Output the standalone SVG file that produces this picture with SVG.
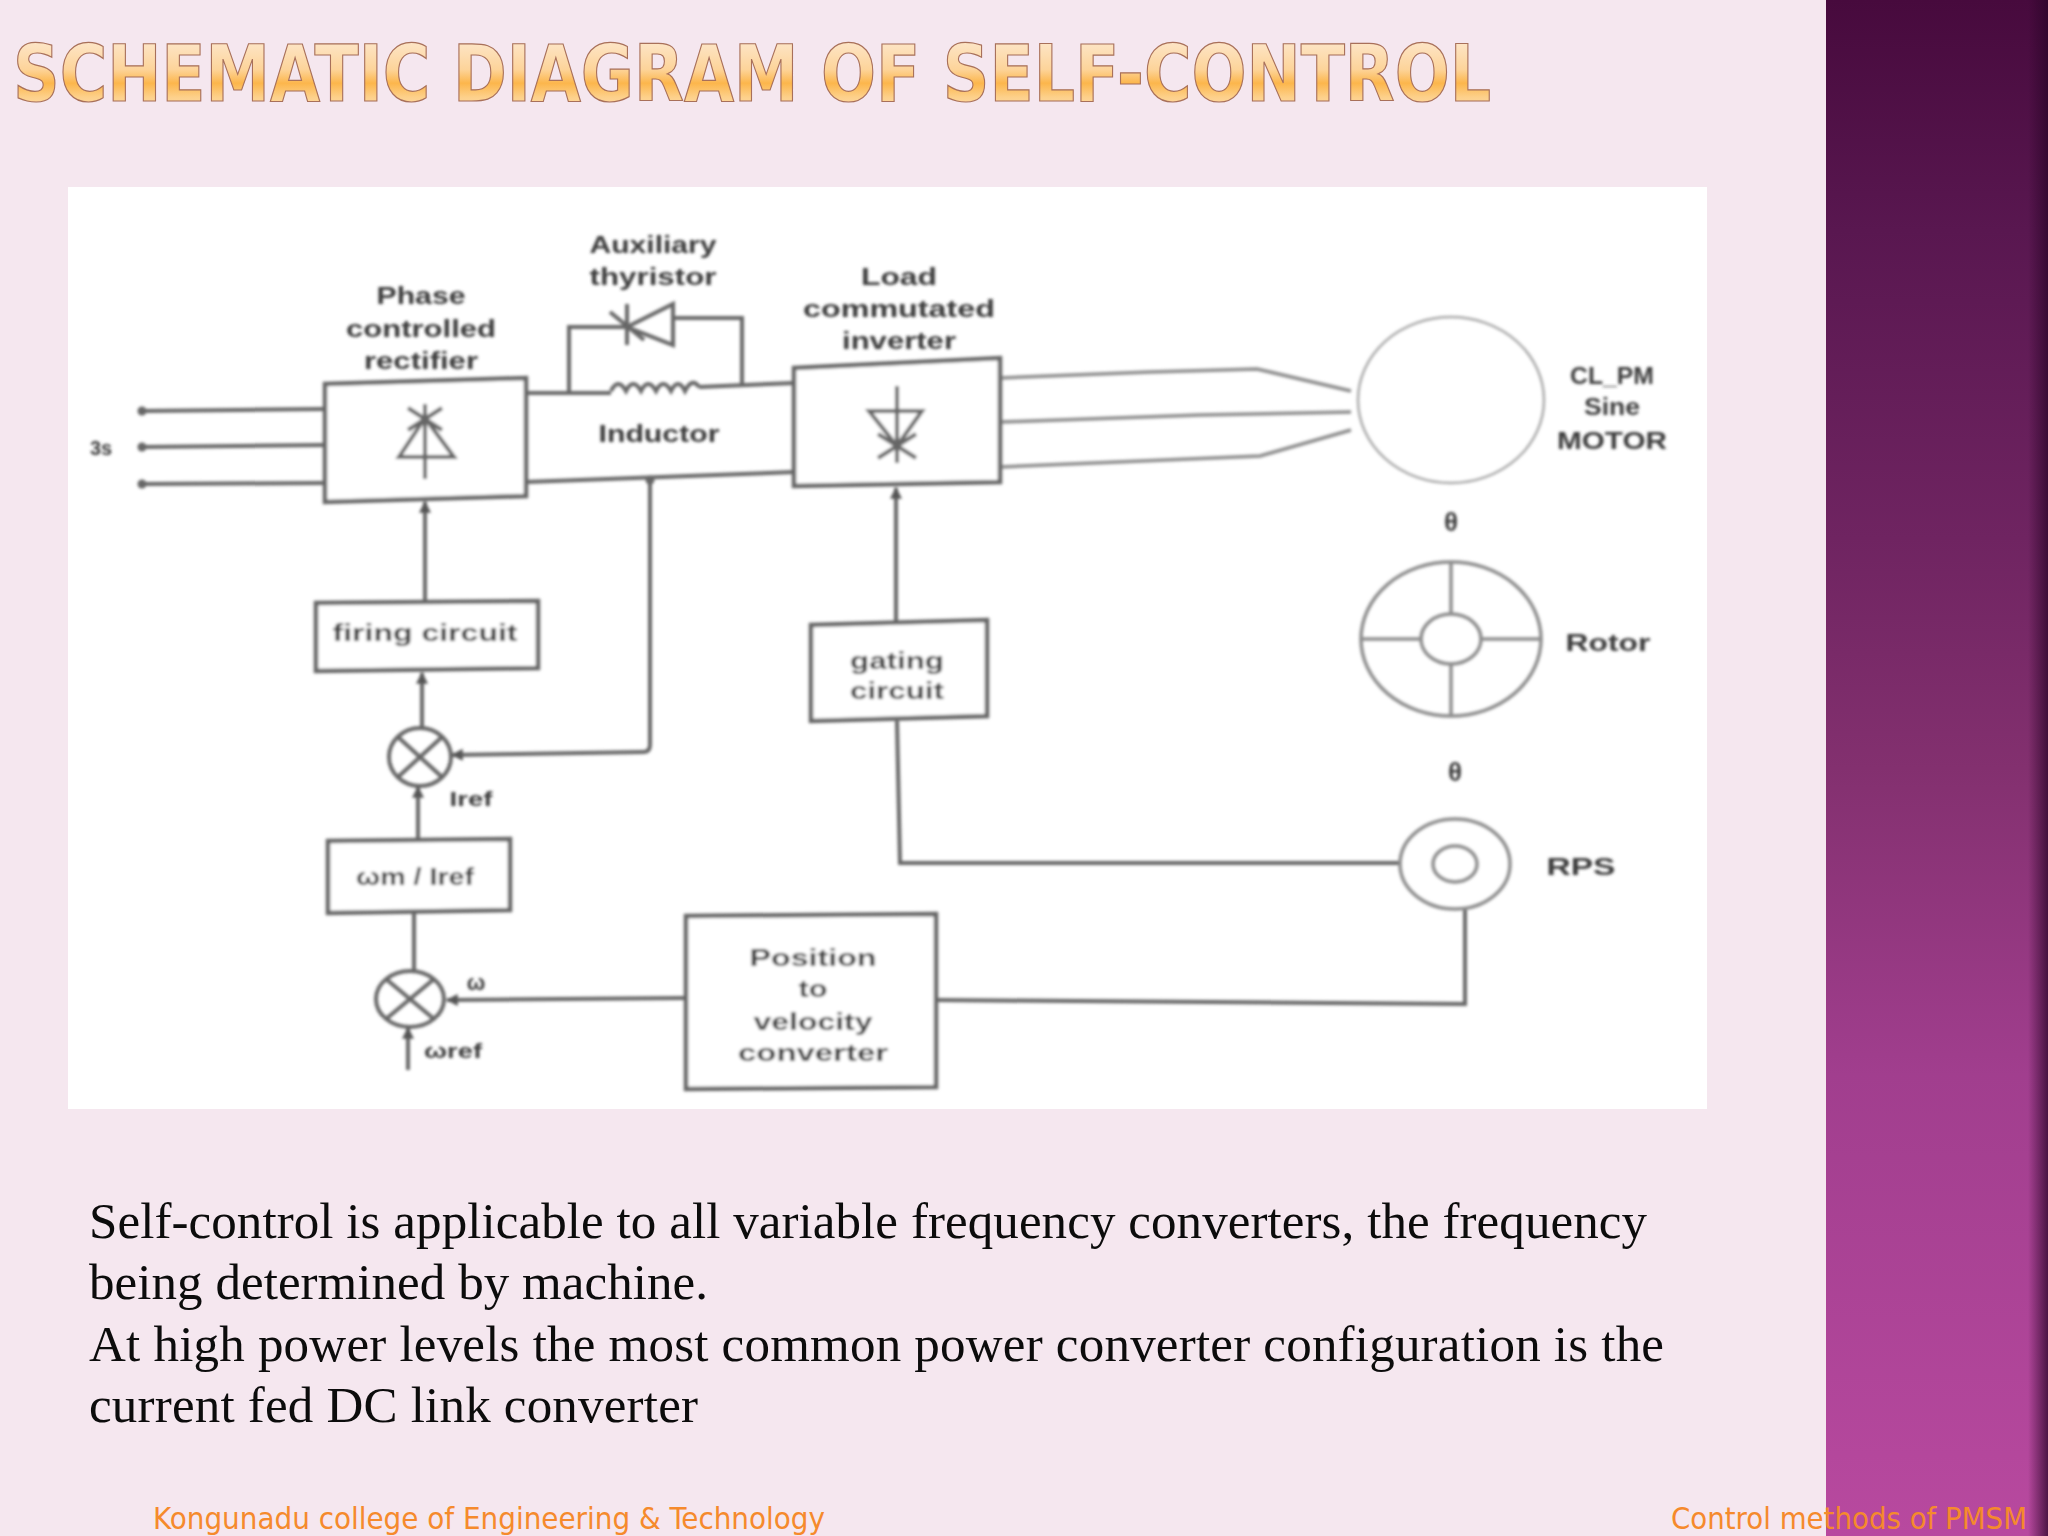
<svg xmlns="http://www.w3.org/2000/svg" width="2048" height="1536" viewBox="0 0 2048 1536">
<defs>
<linearGradient id="side" x1="0" y1="0" x2="0" y2="1"><stop offset="0" stop-color="#470a3d"/><stop offset=".15" stop-color="#591750"/><stop offset=".35" stop-color="#6f2461"/><stop offset=".5" stop-color="#83306f"/><stop offset=".7" stop-color="#a13e8e"/><stop offset="1" stop-color="#b8499f"/></linearGradient>
<linearGradient id="edge" x1="0" y1="0" x2="1" y2="0"><stop offset="0" stop-color="#2a0528" stop-opacity="0"/><stop offset="1" stop-color="#2a0528" stop-opacity=".75"/></linearGradient>
<linearGradient id="title" x1="0" y1="0" x2="0" y2="1"><stop offset="0" stop-color="#fdeede"/><stop offset=".45" stop-color="#fdd49a"/><stop offset=".6" stop-color="#fcb64c"/><stop offset=".75" stop-color="#fdd08a"/><stop offset="1" stop-color="#fee6c6"/></linearGradient>
<filter id="soft" x="-2%" y="-2%" width="104%" height="104%"><feGaussianBlur stdDeviation="1.8"/></filter>
<marker id="tip" viewBox="0 0 10 10" refX="9" refY="5" markerWidth="3" markerHeight="3.4" orient="auto"><path d="M0 0L10 5L0 10Z" fill="#555"/></marker>
</defs>
<style>
.ln{fill:none;stroke:#666;stroke-width:4}
.lf{fill:none;stroke:#8c8c8c;stroke-width:3.5}
.box{fill:#fff;stroke:#666;stroke-width:4.5}
.lbl{font-family:"Liberation Sans",Arial,sans-serif;font-size:24px;font-weight:700;fill:#3a3a3a;text-anchor:middle}
.body{font-family:"Liberation Serif","Times New Roman",serif;font-size:51px;fill:#0c0c0c}
.foot{font-family:"DejaVu Sans Condensed","DejaVu Sans",sans-serif;font-size:31px;fill:#f58a2c}
</style>
<rect id="background" width="2048" height="1536" fill="#f5e7ef"/>
<rect id="sidebar" x="1826" y="0" width="222" height="1536" fill="url(#side)"/>
<rect x="2028" y="0" width="20" height="1536" fill="url(#edge)"/>
<text id="title-text" x="13" y="101" font-family="'DejaVu Sans Condensed','DejaVu Sans',sans-serif" font-weight="700" font-size="79" fill="url(#title)" stroke="#a8705a" stroke-width="1.2" textLength="1478" lengthAdjust="spacingAndGlyphs">SCHEMATIC DIAGRAM OF SELF-CONTROL</text>
<rect id="panel" x="68" y="187" width="1639" height="922" fill="#fff"/>
<g id="diagram" filter="url(#soft)">
<g id="connectors">
<path class="ln" d="M142 411L325 409M142 447L325 445M142 484L325 483"/>
<path class="ln" d="M526 393L611 393M699 387L794 383M526 482L794 472"/>
<path class="ln" d="M569 392V327H627M673 318H742V387"/>
<path class="ln" d="M611 391q7-14 15 0q7-14 15 0q7-14 15 0q7-14 15 0q7-14 14 0q7-14 14-4"/>
<path class="ln" d="M650 480V745Q650 752 643 752L452 755" marker-end="url(#tip)"/>
<path class="ln" d="M425 601V502" marker-end="url(#tip)"/>
<path class="ln" d="M422 727V673" marker-end="url(#tip)"/>
<path class="ln" d="M418 839V787" marker-end="url(#tip)"/>
<path class="ln" d="M414 913V971"/>
<path class="ln" d="M686 998L447 1000" marker-end="url(#tip)"/>
<path class="ln" d="M408 1070V1028" marker-end="url(#tip)"/>
<path class="ln" d="M936 1000L1465 1004V908"/>
<path class="ln" d="M1400 863H900L897 721"/>
<path class="ln" d="M896 625V488" marker-end="url(#tip)"/>
<path class="lf" d="M1000 378L1150 372L1257 369L1351 391M1000 422L1200 415L1351 412M1000 467L1260 456L1351 430"/>
<circle cx="142" cy="411" r="4.5" fill="#666"/><circle cx="142" cy="447" r="4.5" fill="#666"/><circle cx="142" cy="484" r="4.5" fill="#666"/><circle cx="650" cy="480" r="4.5" fill="#666"/>
</g>
<g id="rectifier"><path class="box" d="M325 384L526 378V496L325 502Z"/><path class="ln" d="M425 404V479M425 418L399 457H454Z M408 408L442 430M442 408L408 430"/></g>
<g id="inverter"><path class="box" d="M794 368L1000 358V482L794 486Z"/><path class="ln" d="M897 386V463M869 411H922L897 446Z M878 434L916 458M916 434L878 458"/></g>
<g id="aux-thyristor"><path class="ln" d="M627 327L673 304V345ZM627 304V345M610 312L644 340"/></g>
<g id="firing-circuit"><path class="box" d="M316 603L538 601V668L316 671Z"/><text class="lbl" x="425" y="641" textLength="185" lengthAdjust="spacingAndGlyphs">firing circuit</text></g>
<g id="gating-circuit"><path class="box" d="M811 625L987 620V716L811 721Z"/><text class="lbl" x="897" y="669" textLength="94" lengthAdjust="spacingAndGlyphs">gating</text><text class="lbl" x="897" y="699" textLength="94" lengthAdjust="spacingAndGlyphs">circuit</text></g>
<g id="ratio"><path class="box" d="M328 841L510 839V910L328 913Z"/><text class="lbl" x="415" y="885" textLength="118" lengthAdjust="spacingAndGlyphs">ωm / Iref</text></g>
<g id="position-converter"><path class="box" d="M686 916L936 914V1087L686 1089Z"/><text class="lbl" x="813" y="966" textLength="127" lengthAdjust="spacingAndGlyphs">Position</text><text class="lbl" x="813" y="997" textLength="29" lengthAdjust="spacingAndGlyphs">to</text><text class="lbl" x="813" y="1030" textLength="119" lengthAdjust="spacingAndGlyphs">velocity</text><text class="lbl" x="813" y="1061" textLength="150" lengthAdjust="spacingAndGlyphs">converter</text></g>
<g id="summer-current"><ellipse class="ln" cx="420" cy="757" rx="31" ry="29"/><path class="ln" d="M398 737L442 777M442 737L398 777"/></g>
<g id="summer-speed"><ellipse class="ln" cx="410" cy="999" rx="34" ry="28"/><path class="ln" d="M386 979L434 1019M434 979L386 1019"/></g>
<g id="motor"><ellipse cx="1451" cy="400" rx="93" ry="83" fill="none" stroke="#a8a8a8" stroke-width="2.5"/></g>
<g id="rotor"><ellipse class="lf" cx="1451" cy="639" rx="90" ry="77"/><ellipse class="lf" cx="1451" cy="639" rx="30" ry="25"/><path class="lf" d="M1451 562V614M1451 664V716M1361 639H1421M1481 639H1541"/></g>
<g id="rps"><ellipse class="lf" cx="1455" cy="864" rx="55" ry="45"/><ellipse class="lf" cx="1455" cy="864" rx="22" ry="18"/></g>
<g id="labels">
<text class="lbl" x="421" y="304" textLength="89" lengthAdjust="spacingAndGlyphs">Phase</text><text class="lbl" x="421" y="337" textLength="150" lengthAdjust="spacingAndGlyphs">controlled</text><text class="lbl" x="421" y="369" textLength="114" lengthAdjust="spacingAndGlyphs">rectifier</text>
<text class="lbl" x="653" y="253" textLength="127" lengthAdjust="spacingAndGlyphs">Auxiliary</text><text class="lbl" x="653" y="285" textLength="127" lengthAdjust="spacingAndGlyphs">thyristor</text>
<text class="lbl" x="899" y="285" textLength="76" lengthAdjust="spacingAndGlyphs">Load</text><text class="lbl" x="899" y="317" textLength="192" lengthAdjust="spacingAndGlyphs">commutated</text><text class="lbl" x="899" y="349" textLength="114" lengthAdjust="spacingAndGlyphs">inverter</text>
<text class="lbl" x="659" y="442" textLength="121" lengthAdjust="spacingAndGlyphs">Inductor</text>
<text class="lbl" x="101" y="455" style="font-size:20px">3s</text>
<text class="lbl" x="471" y="806" style="font-size:20px" textLength="43" lengthAdjust="spacingAndGlyphs">Iref</text>
<text class="lbl" x="476" y="990" style="font-size:22px">ω</text>
<text class="lbl" x="453" y="1058" style="font-size:20px" textLength="58" lengthAdjust="spacingAndGlyphs">ωref</text>
<text class="lbl" x="1451" y="531" style="font-size:26px">θ</text>
<text class="lbl" x="1455" y="781" style="font-size:26px">θ</text>
<text class="lbl" x="1608" y="651" textLength="85" lengthAdjust="spacingAndGlyphs">Rotor</text>
<text class="lbl" x="1581" y="875" textLength="69" lengthAdjust="spacingAndGlyphs">RPS</text>
<text class="lbl" x="1612" y="384" textLength="84" lengthAdjust="spacingAndGlyphs">CL_PM</text><text class="lbl" x="1612" y="415" textLength="56" lengthAdjust="spacingAndGlyphs">Sine</text><text class="lbl" x="1612" y="449" textLength="110" lengthAdjust="spacingAndGlyphs">MOTOR</text>
</g>
</g>
<g id="body-text">
<text class="body" x="89" y="1238" textLength="1558">Self-control is applicable to all variable frequency converters, the frequency</text>
<text class="body" x="89" y="1299" textLength="619">being determined by machine.</text>
<text class="body" x="89" y="1361" textLength="1575">At high power levels the most common power converter configuration is the</text>
<text class="body" x="89" y="1422" textLength="609">current fed DC link converter</text>
</g>
<text id="footer-left" class="foot" x="153" y="1529" textLength="672" lengthAdjust="spacingAndGlyphs">Kongunadu college of Engineering &amp; Technology</text>
<text id="footer-right" class="foot" x="1671" y="1529" textLength="356" lengthAdjust="spacingAndGlyphs">Control methods of PMSM</text>
</svg>
